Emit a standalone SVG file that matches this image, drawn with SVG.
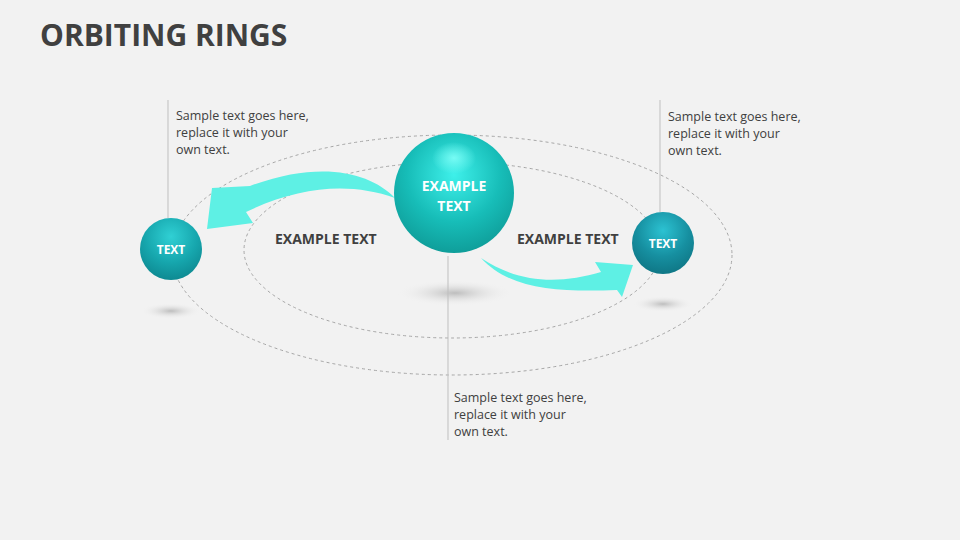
<svg xmlns="http://www.w3.org/2000/svg" width="960" height="540" viewBox="0 0 960 540">
<defs>
<radialGradient id="gBig" cx="0.5" cy="0.35" r="0.65">
<stop offset="0" stop-color="#3ef0ea"/><stop offset="0.6" stop-color="#17bdb8"/><stop offset="1" stop-color="#0f9e9a"/>
</radialGradient>
<radialGradient id="gHl" cx="0.5" cy="0.5" r="0.5">
<stop offset="0" stop-color="#7ffff8" stop-opacity="0.9"/><stop offset="1" stop-color="#7ffff8" stop-opacity="0"/>
</radialGradient>
<radialGradient id="gL" cx="0.5" cy="0.3" r="0.7">
<stop offset="0" stop-color="#30d0d4"/><stop offset="0.6" stop-color="#16a6ad"/><stop offset="1" stop-color="#0e8a92"/>
</radialGradient>
<radialGradient id="gR" cx="0.5" cy="0.3" r="0.7">
<stop offset="0" stop-color="#2cc2d2"/><stop offset="0.6" stop-color="#168fa0"/><stop offset="1" stop-color="#0f7786"/>
</radialGradient>
<radialGradient id="gSh" cx="0.5" cy="0.5" r="0.5">
<stop offset="0" stop-color="#bdbdbd"/><stop offset="1" stop-color="#f2f2f2" stop-opacity="0"/>
</radialGradient>
<style>
.ring{fill:none;stroke:#a6a6a6;stroke-width:1;stroke-dasharray:3 3}
.lead{stroke:#bfbfbf;stroke-width:1}
.body{font-family:"Open Sans","Liberation Sans",sans-serif;font-size:12.5px;fill:#404040}
.lab{font-family:"Open Sans","Liberation Sans",sans-serif;font-size:14px;font-weight:bold;fill:#404040}
.in{font-family:"Open Sans","Liberation Sans",sans-serif;font-weight:bold;fill:#fff;text-anchor:middle}
.arr{fill:#5ef0e4}
</style>
</defs>
<rect width="960" height="540" fill="#f2f2f2"/>
<text x="40" y="46" font-family="Open Sans,Liberation Sans,sans-serif" font-size="30" font-weight="bold" fill="#404040">ORBITING RINGS</text>
<g id="rings">
<ellipse class="ring" cx="452" cy="255" rx="280" ry="120"/>
<ellipse class="ring" cx="452" cy="250" rx="208" ry="88"/>
</g>
<g id="shadows">
<ellipse cx="455" cy="293" rx="58" ry="13" fill="url(#gSh)"/>
<ellipse cx="171" cy="311" rx="30" ry="8" fill="url(#gSh)"/>
<ellipse cx="663" cy="304" rx="30" ry="8" fill="url(#gSh)"/>
</g>
<g id="connectors">
<line class="lead" x1="168" y1="100" x2="168" y2="218"/>
<line class="lead" x1="660" y1="100" x2="660" y2="212"/>
<line class="lead" x1="448" y1="256" x2="448" y2="440"/>
<path class="arr" d="M395 198 C370 172 320 160 250 186 L212 188 L207 229 L253 223 L246 212 C300 186 350 182 395 198 Z"/>
<path class="arr" d="M481 258 C510 290 560 292 617 290 L622 297 L633 265 L595 262 L601 272 C560 284 520 284 481 258 Z"/>
</g>
<g id="center">
<circle cx="454" cy="193" r="60" fill="url(#gBig)"/>
<ellipse cx="454" cy="158" rx="22" ry="16" fill="url(#gHl)"/>
<text class="in" x="454" y="191" font-size="14">EXAMPLE</text>
<text class="in" x="454" y="211" font-size="14">TEXT</text>
</g>
<g id="left">
<circle cx="171" cy="249" r="31" fill="url(#gL)"/>
<text class="in" x="171" y="254" font-size="12">TEXT</text>
</g>
<g id="right">
<circle cx="663" cy="243" r="31" fill="url(#gR)"/>
<text class="in" x="663" y="248" font-size="12">TEXT</text>
</g>
<g id="labels">
<text class="lab" x="275" y="244">EXAMPLE TEXT</text>
<text class="lab" x="517" y="244">EXAMPLE TEXT</text>
</g>
<g id="notes">
<text class="body" x="176" y="120">Sample text goes here,</text>
<text class="body" x="176" y="137">replace it with your</text>
<text class="body" x="176" y="154">own text.</text>
<text class="body" x="668" y="121">Sample text goes here,</text>
<text class="body" x="668" y="138">replace it with your</text>
<text class="body" x="668" y="155">own text.</text>
<text class="body" x="454" y="402">Sample text goes here,</text>
<text class="body" x="454" y="419">replace it with your</text>
<text class="body" x="454" y="436">own text.</text>
</g>
</svg>
